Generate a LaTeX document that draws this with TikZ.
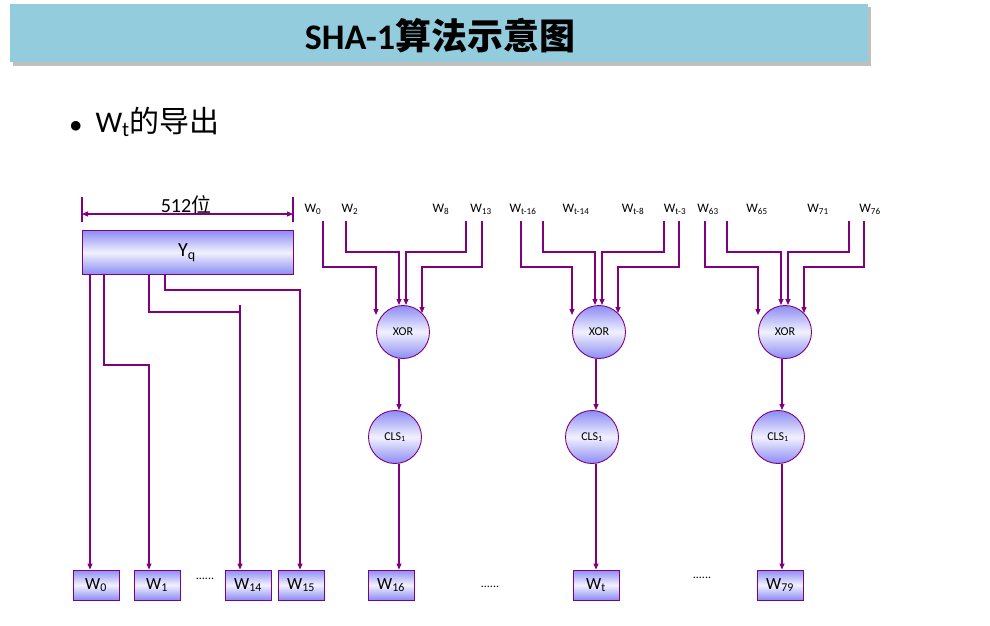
\documentclass[tikz,border=0pt]{standalone}
\usepackage{fontspec}
\setmainfont{Carlito}
\newfontfamily\cjk{Noto Sans CJK SC}
\usetikzlibrary{arrows.meta,shadows}
\definecolor{pur}{HTML}{800080}
\definecolor{lav}{HTML}{8C8CF5}
\definecolor{ttl}{HTML}{93CDDD}
\begin{document}
\begin{tikzpicture}[x=1pt,y=-1pt,
  ln/.style={draw=pur,line width=1.1pt},
  ar/.style={ln,-{Triangle[length=6pt,width=5pt]}},
  grad/.style={draw=pur,line width=0.9pt,top color=lav,bottom color=lav,middle color=white!88!lav},
  box/.style={grad,minimum width=46pt,minimum height=30pt,inner sep=0pt,font=\fontsize{17}{17}\selectfont},
  circ/.style={grad,circle,minimum size=53pt,inner sep=0pt,font=\fontsize{12}{12}\selectfont},
  lab/.style={font=\fontsize{13}{13}\selectfont,inner sep=0pt}]
\useasboundingbox (0,0) rectangle (990,625);
\fill[white] (0,0) rectangle (990,625);
\fill[gray!50] (13,7) rectangle (871,66);
\node[fill=ttl,minimum width=858pt,minimum height=58pt,inner sep=0pt,anchor=north west] (title) at (10,4) {};
\node[font=\fontsize{36}{36}\selectfont\bfseries] (tt) at (440,36) {SHA-1{\cjk 算法示意图}};
\node[font=\fontsize{30}{30}\selectfont,anchor=west] (bul) at (66,122) {$\bullet$\ \ W\textsubscript{t}{\cjk 的导出}};
% 512
\draw[ln] (82,197) -- (82,222); \draw[ln] (293,197) -- (293,222);
\coordinate (La) at (82,214); \coordinate (Lb) at (293,214);
\draw[ln,{Triangle[length=6pt,width=5pt]}-{Triangle[length=6pt,width=5pt]}] (La) -- (Lb);
\node[font=\fontsize{20}{20}\selectfont] (bits) at (186,205) {512{\cjk 位}};
\node[grad,minimum width=211pt,minimum height=44pt,inner sep=0pt,anchor=north west] (Y) at (82,230) {};
\node[font=\fontsize{20}{20}\selectfont] (Yt) at (187,253) {Y\textsubscript{q}};
% bottom boxes
\node[box] (b0) at (96,585) {W\textsubscript{0}};
\node[box] (b1) at (157,585) {W\textsubscript{1}};
\node[box] (b14) at (248,585) {W\textsubscript{14}};
\node[box] (b15) at (301,585) {W\textsubscript{15}};
\node[box] (b16) at (391,585) {W\textsubscript{16}};
\node[box] (bt) at (596,585) {W\textsubscript{t}};
\node[box] (b79) at (780,585) {W\textsubscript{79}};
\node[font=\fontsize{12}{12}\selectfont] (d1) at (205,579) {......};
\node[font=\fontsize{12}{12}\selectfont] (d2) at (490,587) {......};
\node[font=\fontsize{12}{12}\selectfont] (d3) at (702,578) {......};
% Yq fan-out
\draw[ar] (90,274) -- (b0.north -| 90,0);
\draw[ar] (104,274) -- (104,365) -- (149,365) -- (b1.north -| 149,0);
\draw[ln] (149,274) -- (149,312) -- (240,312);
\draw[ar] (240,305) -- (b14.north -| 240,0);
\draw[ar] (165,274) -- (165,290) -- (300,290) -- (b15.north -| 300,0);
% groups
\foreach \g/\xc/\xl/\cc/\ba/\bb/\bc/\bd/\la/\lb/\lc/\ld/\ta/\tb/\tc/\td/\bx in
 {1/403/399/395/323/346/466/482/313/350/441/481/{W\textsubscript{0}}/{W\textsubscript{2}}/{W\textsubscript{8}}/{W\textsubscript{13}}/b16,
  2/599/596/592/521/543/664/679/523/576/633/675/{W\textsubscript{t-16}}/{W\textsubscript{t-14}}/{W\textsubscript{t-8}}/{W\textsubscript{t-3}}/bt,
  3/785/782/778/705/727/849/864/708/757/818/870/{W\textsubscript{63}}/{W\textsubscript{65}}/{W\textsubscript{71}}/{W\textsubscript{76}}/b79}{
  \node[circ] (x\g) at (\xc,332) {XOR};
  \node[circ] (c\g) at (\cc,437) {CLS\textsubscript{1}};
  \node[lab] (la\g) at (\la,209) {\ta};
  \node[lab] (lb\g) at (\lb,209) {\tb};
  \node[lab] (lc\g) at (\lc,209) {\tc};
  \node[lab] (ld\g) at (\ld,209) {\td};
  \draw[ar] (\ba,221) -- (\ba,267) -- (\xc-27,267) -- (\xc-27,315);
  \draw[ar] (\bb,221) -- (\bb,252) -- (\xc-4,252) -- (\xc-4,305);
  \draw[ar] (\bc,221) -- (\bc,252) -- (\xc+3,252) -- (\xc+3,305);
  \draw[ar] (\bd,221) -- (\bd,267) -- (\xc+19,267) -- (\xc+19,313);
  \draw[ar] (x\g.south -| \xl,0) -- (c\g.north -| \xl,0);
  \draw[ar] (c\g.south -| \xl,0) -- (\bx.north -| \xl,0);
}
\end{tikzpicture}
\end{document}
